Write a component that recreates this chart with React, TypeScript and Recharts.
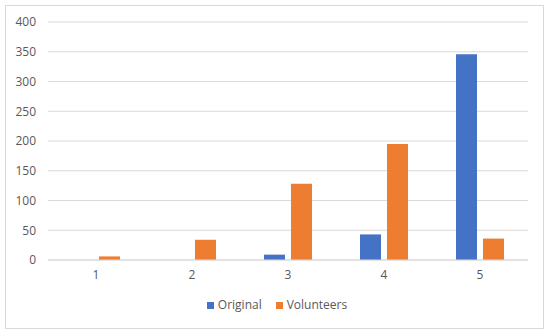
import React from "react";
import { BarChart, Bar, XAxis, YAxis, CartesianGrid, Legend } from "recharts";

const categories = ["1", "2", "3", "4", "5"];
const originalValues = [0, 0, 9, 43, 346];
const volunteerValues = [6, 34, 128, 195, 36];
const yTicks = [0, 50, 100, 150, 200, 250, 300, 350, 400];

const data = categories.map((c, i) => ({
  name: c,
  Original: originalValues[i],
  Volunteers: volunteerValues[i],
}));

const FONT = "'Open Sans', 'Liberation Sans', sans-serif";
const TEXT = "#595959";

const XTick = (props: any) => {
  const { x, y, payload } = props;
  return (
    <text x={x} y={y} dy="0.71em" textAnchor="middle" fill={TEXT} fontSize={12} fontFamily={FONT}>
      {payload.value}
    </text>
  );
};

const LegendContent = () => {
  const items = [
    { label: "Original", color: "#4472C4" },
    { label: "Volunteers", color: "#ED7D31" },
  ];
  return (
    <div
      style={{
        display: "flex",
        justifyContent: "center",
        marginTop: 8,
        lineHeight: "14px",
        fontFamily: FONT,
        fontSize: 12,
        color: TEXT,
        paddingLeft: 4,
      }}
    >
      {items.map((it, i) => (
        <div key={it.label} style={{ display: "flex", alignItems: "center", marginLeft: i ? 14 : 0 }}>
          <span style={{ width: 7, height: 7, background: it.color, marginRight: 4, display: "inline-block" }} />
          <span>{it.label}</span>
        </div>
      ))}
    </div>
  );
};

export default function App() {
  return (
    <div style={{ position: "absolute", left: 0, top: 0, width: 550, height: 335, background: "#fff" }}>
      <div
        style={{
          position: "absolute",
          left: 5,
          top: 5,
          width: 537,
          height: 322,
          border: "1px solid #d9d9d9",
        }}
      />
      <div style={{ position: "absolute", left: 0, top: 0 }}>
        <BarChart
          width={550}
          height={335}
          data={data}
          margin={{ top: 22, right: 22, left: 0, bottom: 0 }}
          barCategoryGap="25%"
          barGap={6}
        >
          <CartesianGrid vertical={false} stroke="#d9d9d9" />
          <XAxis
            dataKey="name"
            height={30}
            tickLine={false}
            tickSize={0}
            tickMargin={10}
            axisLine={{ stroke: "#d9d9d9" }}
            tick={<XTick />}
          />
          <YAxis
            width={48}
            domain={[0, 400]}
            ticks={yTicks}
            axisLine={false}
            tickLine={false}
            tickSize={0}
            tickMargin={12}
            tick={{ fill: TEXT, fontSize: 12, fontFamily: FONT }}
          />
          <Legend
            verticalAlign="bottom"
            content={<LegendContent />}
            wrapperStyle={{ left: 0, width: 550, height: 45 }}
          />
          <Bar dataKey="Original" fill="#4472C4" isAnimationActive={false} />
          <Bar dataKey="Volunteers" fill="#ED7D31" isAnimationActive={false} />
        </BarChart>
      </div>
    </div>
  );
}
